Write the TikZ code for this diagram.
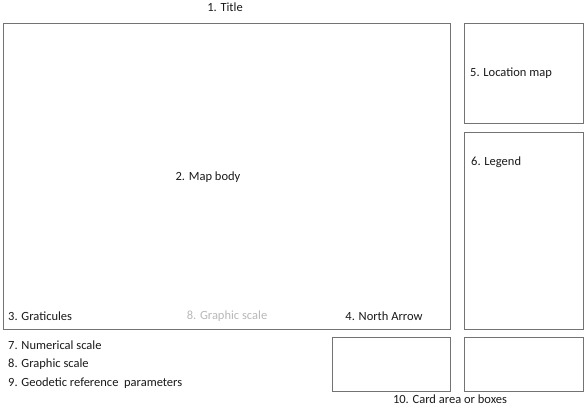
\documentclass[tikz,border=0pt]{standalone}
\usepackage{fontspec}
\setmainfont{Carlito}
\begin{document}
\begin{tikzpicture}[x=1pt,y=-1pt,
  frame/.style={draw=black!55,line width=0.9pt,fill=none},
  lbl/.style={font=\fontsize{12.5}{14}\selectfont,text=black!90,inner sep=0pt},
  lightlbl/.style={lbl,text=black!28}]
\useasboundingbox (0,0) rectangle (586,407);
% boxes
\draw[frame] (3,23) rectangle (450,329);
\draw[frame] (464,23) rectangle (583,123);
\draw[frame] (464,132) rectangle (583,329);
\draw[frame] (332,337) rectangle (450,391);
\draw[frame] (464,337) rectangle (583,391);
% labels
\node[lbl] (title) at (225,7) {1. Title};
\node[lbl] (body) at (208,177) {2. Map body};
\node[lbl,anchor=west] (grat) at (8,316) {3. Graticules};
\node[lightlbl] (gscale1) at (227,316) {8. Graphic scale};
\node[lbl] (north) at (384,316) {4. North Arrow};
\node[lbl,anchor=west] (loc) at (470,73) {5. Location map};
\node[lbl,anchor=west] (legend) at (471,162) {6. Legend};
\node[lbl,anchor=west] (num) at (8,345) {7. Numerical scale};
\node[lbl,anchor=west] (gscale2) at (8,364) {8. Graphic scale};
\node[lbl,anchor=west] (geo) at (8,383) {9. Geodetic reference\ \ parameters};
\node[lbl] (card) at (450,399) {10. Card area or boxes};
\end{tikzpicture}
\end{document}
